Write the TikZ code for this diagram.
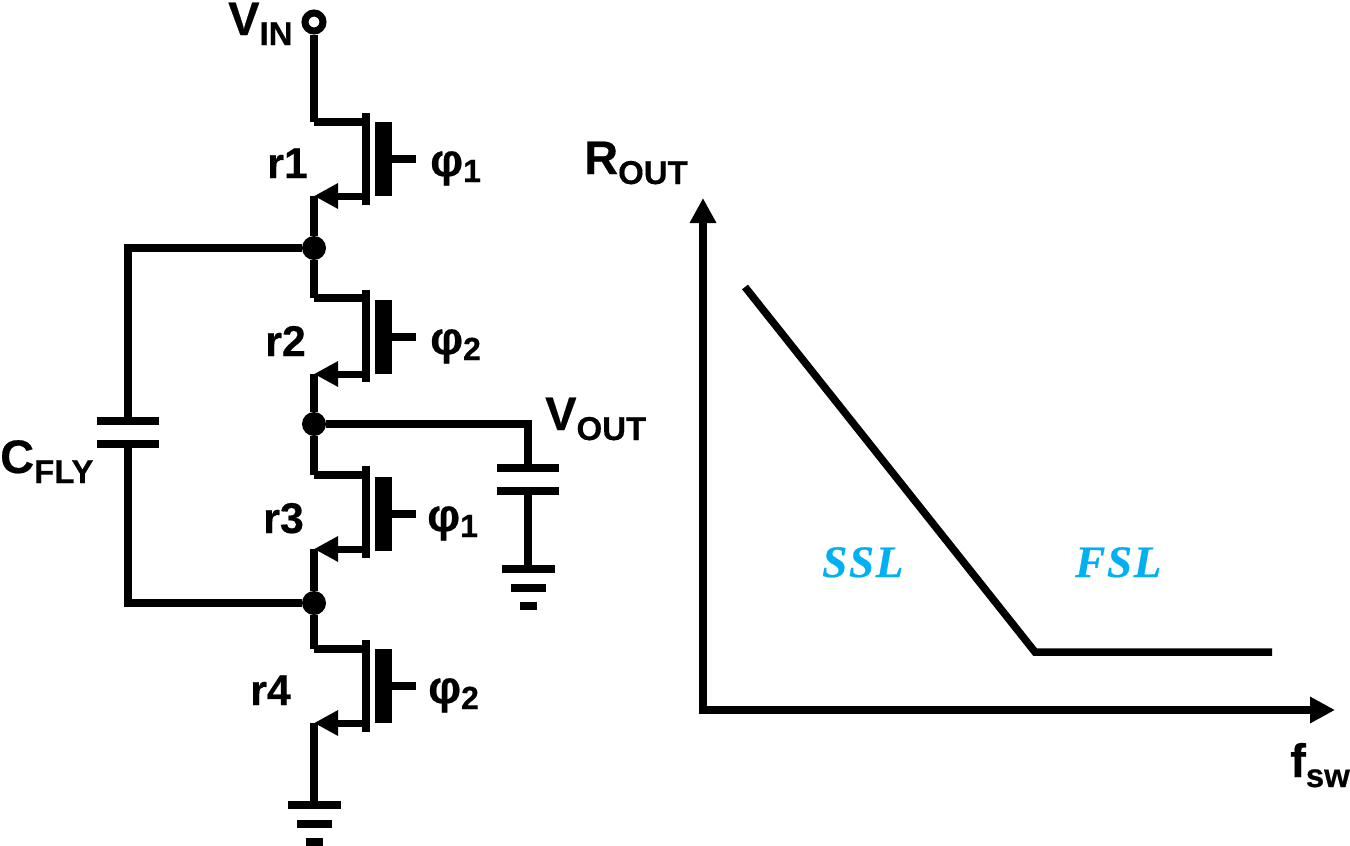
\documentclass[tikz,border=0pt]{standalone}
\usepackage{fontspec}
\setmainfont{Liberation Sans}[FakeStretch=1.0,BoldFeatures={FakeBold=0.4}]
\newfontfamily\slfont{Liberation Serif}[LetterSpace=4,BoldItalicFeatures={FakeBold=0.5}]
\usepackage{xcolor}
\usetikzlibrary{arrows.meta}
\definecolor{slblue}{HTML}{00B0F0}
\newcommand{\biglabel}[2]{\fontsize{47}{47}\selectfont\bfseries #1\raisebox{-10pt}{\fontsize{33}{33}\selectfont #2}}
\tikzset{
    wire/.style = {line width=7.5pt, line join=miter},
    arrow/.style = {line width=7.5pt, -{Triangle[length=25pt,width=25pt]}},
    srcarrow/.style = {line width=7pt, -{Triangle[length=24pt,width=24pt]}},
    plate/.style = {rectangle, fill=black, inner sep=0pt, minimum width=62pt, minimum height=8pt},
    channel/.style = {rectangle, fill=black, inner sep=0pt, minimum width=8pt, minimum height=92pt},
    gateplate/.style = {rectangle, fill=black, inner sep=0pt, minimum width=17pt, minimum height=74pt},
    gndbar/.style = {rectangle, fill=black, inner sep=0pt, minimum height=8pt},
    junction/.style = {circle, fill=black, inner sep=0pt, minimum size=24pt},
    pin/.style = {circle, draw=black, line width=7pt, fill=white, inner sep=0pt, minimum size=18pt},
    lbl/.style = {inner sep=0pt, anchor=base west},
    rlbl/.style = {inner sep=0pt, anchor=base west, font=\fontsize{43}{43}\selectfont\bfseries},
    sllbl/.style = {inner sep=0pt, anchor=base west, text=slblue, font=\fontsize{45}{45}\slfont\bfseries\itshape}
}

\begin{document}
\begin{tikzpicture}[x=1pt,y=-1pt]
\useasboundingbox (0,0) rectangle (1350,846);

% circuit nodes
\node (vin) [pin] at (314,22) {};
\node (top) [junction] at (314,248) {};
\node (mid) [junction] at (314,424) {};
\node (bot) [junction] at (314,603) {};

% switches
\foreach \n/\dy/\gy/\sy/\ph/\sub/\rx/\px in {1/122/159/196/\char"03C6/1/267/430, 2/298/337/374/\char"03C6/2/265/430, 3/475/514/549/\char"03C6/1/263/427, 4/649/686/723/\char"03C6/2/250/428} {
    \node (ch\n) [channel] at (366,{(\dy+\sy)/2}) {};
    \node (gp\n) [gateplate] at (383.5,\gy) {};
    \coordinate (d\n) at (314,\dy);
    \coordinate (dc\n) at (366,\dy);
    \coordinate (s\n) at (314,\sy);
    \coordinate (sc\n) at (366,\sy);
    \coordinate (g\n) at (416,\gy);
    \draw [wire] (gp\n.east) -- (g\n);
    \draw [wire] (d\n) -- (dc\n);
    \draw [srcarrow] (sc\n) -- (s\n);
    \node (r\n) [rlbl] at (\rx,{\gy+19}) {r\n};
    \node (ph\n) [lbl] at (\px,{\gy+17}) {\fontsize{46}{46}\selectfont\bfseries\ph\raisebox{-6pt}{\fontsize{32}{32}\selectfont\sub}};
}

% ground symbols
\foreach \g/\x/\y in {a/314/805, b/528/569} {
    \node (gnd\g) [gndbar, minimum width=53pt] at (\x,\y) {};
    \node (gnd\g m) [gndbar, minimum width=35pt] at (\x,{\y+19}) {};
    \node (gnd\g l) [gndbar, minimum width=17pt] at (\x,{\y+37}) {};
}

% capacitors
\node (cf1) [plate] at (128,421) {};
\node (cf2) [plate] at (128,444) {};
\node (co1) [plate] at (528,468) {};
\node (co2) [plate] at (528,491) {};
\coordinate (vo) at (528,424);

\draw [wire] (vin) -- (d1);
\draw [wire] (s1) -- (top);
\draw [wire] (top) -- (d2);
\draw [wire] (s2) -- (mid);
\draw [wire] (mid) -- (vo) -- (co1);
\draw [wire] (mid) -- (d3);
\draw [wire] (s3) -- (bot);
\draw [wire] (bot) -- (d4);
\draw [wire] (s4) -- (gnda);
\draw [wire] (top) -| (cf1);
\draw [wire] (cf2) |- (bot);
\draw [wire] (co2) -- (gndb);

% circuit labels
\node (vinl) [lbl] at (228,35) {\biglabel{V}{IN}};
\node (voutl) [lbl] at (545,430) {\biglabel{V}{OUT}};
\node (cflyl) [lbl] at (0,473) {\biglabel{C}{FLY}};

% plot
\coordinate (origin) at (703,710);
\coordinate (ytip) at (703,198);
\coordinate (xtip) at (1335,710);
\coordinate (p1) at (745,287);
\coordinate (p2) at (1035,652);
\coordinate (p3) at (1272,652);
\draw [arrow] ([yshift=-3.75pt]origin) -- (ytip);
\draw [arrow] ([xshift=-3.75pt]origin) -- (xtip);
\draw [wire] (p1) -- (p2) -- (p3);

\node (routl) [lbl] at (584,174) {\biglabel{R}{OUT}};
\node (fswl) [lbl] at (1290,777) {\biglabel{f}{sw}};
\node (ssl) [sllbl] at (822,577) {SSL};
\node (fsl) [sllbl] at (1075,577) {FSL};
\end{tikzpicture}
\end{document}
